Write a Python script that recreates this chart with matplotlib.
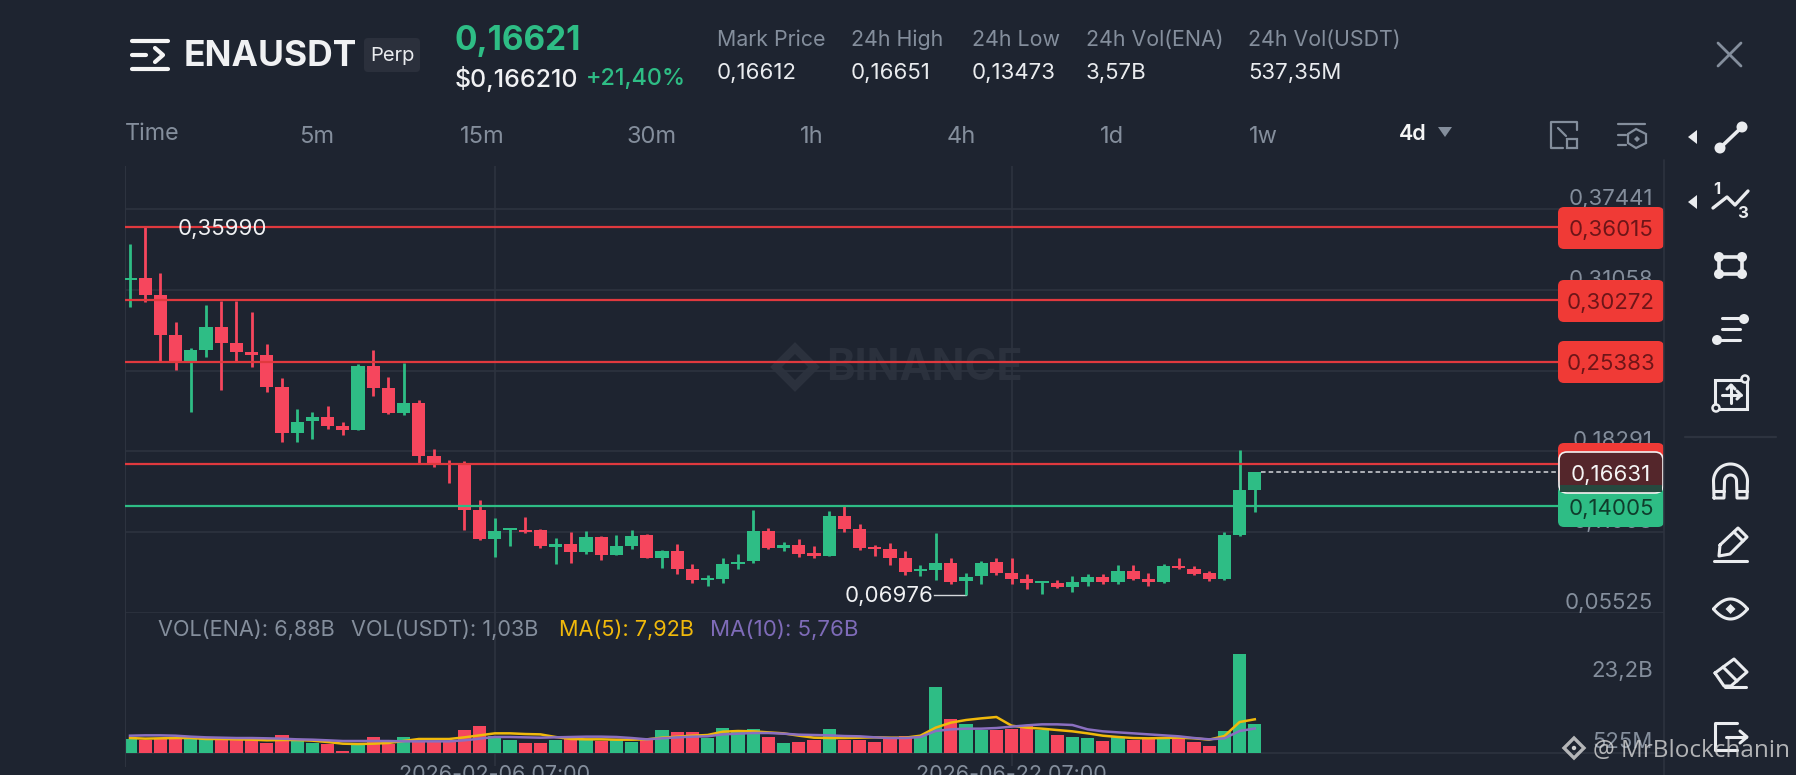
import numpy as np
import matplotlib
matplotlib.use("Agg")
import matplotlib.pyplot as plt
from matplotlib.patches import FancyBboxPatch, Circle, Polygon

plt.rcParams['font.family'] = ['Inter', 'DejaVu Sans']

W, H = 1796, 775

# candles
opens = [.3181, .3197, .3065, .2747, .2544, .2634, .2813, .2689, .2618, .2589,
         .2337, .1971, .2066, .2100, .2029, .1997, .2502, .2329, .2131, .2208,
         .1793, .1733, .1737, .1366, .1140, .1206, .1211, .1206, .1074, .1095,
         .1037, .1151, .1009, .1085, .1166, .0990, .1043, .0898, .0811, .0819,
         .0943, .0964, .1198, .1069, .1093, .1027, .1003, .1316, .1216, .1074,
         .1058, .0987, .0882, .0890, .0945, .0803, .0843, .0953, .0869, .0825,
         .0793, .0793, .0759, .0801, .0838, .0798, .0888, .0825, .0801, .0927,
         .0903, .0869, .0825, .1166, .1527]
closes = [.3199, .3068, .2747, .2539, .2634, .2813, .2689, .2618, .2589, .2337,
          .1971, .2063, .2100, .2031, .1997, .2502, .2329, .2134, .2208, .1790,
          .1730, .1725, .1369, .1137, .1203, .1219, .1193, .1080, .1095, .1037,
          .1151, .1009, .1085, .1164, .0990, .1043, .0898, .0811, .0832, .0943,
          .0959, .1198, .1064, .1090, .1022, .1001, .1316, .1214, .1069, .1058,
          .0987, .0880, .0898, .0945, .0801, .0840, .0951, .0869, .0825, .0790,
          .0803, .0759, .0801, .0835, .0798, .0888, .0822, .0801, .0924, .0906,
          .0864, .0825, .1166, .1527, .16631]
highs = [.3465, .3599, .3239, .2849, .2649, .2984, .3018, .3018, .2931, .2676,
         .2408, .2163, .2137, .2187, .2063, .2518, .2628, .2413, .2531, .2234,
         .1848, .1761, .1753, .1443, .1303, .1219, .1311, .1219, .1148, .1190,
         .1201, .1161, .1166, .1209, .1180, .1048, .1095, .0943, .0856, .0990,
         .1022, .1369, .1227, .1114, .1137, .1082, .1358, .1398, .1258, .1087,
         .1106, .1040, .0930, .1185, .0987, .0872, .0964, .0985, .0987, .0859,
         .0803, .0817, .0843, .0859, .0864, .0930, .0935, .0866, .0943, .0985,
         .0922, .0885, .1190, .1837, .16631]
lows = [.2973, .3007, .2544, .2471, .2137, .2576, .2313, .2544, .2492, .2302,
        .1900, .1905, .1924, .2005, .1960, .1997, .2266, .2123, .2118, .1730,
        .1706, .1579, .1211, .1127, .0995, .1082, .1185, .1069, .0938, .0951,
        .1016, .0969, .1009, .1061, .0985, .0911, .0864, .0790, .0764, .0793,
        .0903, .0948, .1061, .1043, .0998, .0985, .1003, .1193, .1053, .1001,
        .0935, .0856, .0845, .0817, .0780, .06976, .0785, .0851, .0785, .0746,
        .0701, .0748, .0722, .0767, .0782, .0782, .0817, .0767, .0788, .0898,
        .0853, .0806, .0817, .1161, .1350]

# volume pane, in billions
volumes = [3.29, 3.13, 3.21, 3.21, 3.21, 3.21, 3.21, 3.21, 3.21, 2.43,
           4.15, 2.82, 2.43, 2.19, 0.55, 2.19, 3.68, 2.19, 3.68, 2.66,
           2.66, 2.66, 5.40, 6.26, 3.92, 2.98, 2.43, 2.43, 3.13, 3.21,
           3.21, 2.82, 3.21, 2.66, 2.98, 5.32, 4.85, 4.85, 3.60, 5.95,
           5.01, 5.56, 3.76, 2.27, 2.66, 3.05, 5.56, 3.13, 2.98, 2.58,
           3.29, 3.92, 3.92, 15.5, 7.91, 6.73, 5.48, 5.40, 5.56, 6.34,
           5.48, 4.15, 3.84, 3.52, 2.90, 3.76, 2.98, 3.21, 3.60, 3.60,
           2.66, 1.64, 5.25, 23.2, 6.88]
ma5 = [3.52, 3.37, 3.45, 3.52, 3.52, 3.29, 3.29, 3.21, 3.13, 2.98,
       3.05, 3.05, 2.90, 2.58, 2.19, 2.11, 2.19, 2.35, 2.82, 3.29,
       3.29, 3.29, 3.68, 4.15, 4.62, 4.62, 4.46, 4.38, 3.76, 3.29,
       3.21, 3.21, 3.13, 3.13, 3.21, 3.60, 3.84, 4.07, 4.23, 5.01,
       5.17, 5.09, 4.85, 4.62, 4.07, 3.60, 3.52, 3.52, 3.60, 3.68,
       3.60, 3.60, 4.07, 5.95, 7.13, 7.75, 8.14, 8.46, 6.42, 5.95,
       5.72, 5.40, 5.09, 4.62, 4.07, 3.76, 3.52, 3.45, 3.52, 3.60,
       3.45, 3.13, 3.99, 7.28, 7.92]
ma10 = [4.07, 4.15, 4.15, 4.07, 3.84, 3.68, 3.60, 3.52, 3.52, 3.45,
        3.37, 3.21, 3.13, 2.98, 2.82, 2.82, 2.82, 2.82, 2.74, 2.74,
        2.74, 2.74, 2.98, 3.37, 3.76, 3.76, 3.68, 3.60, 3.68, 3.76,
        3.84, 3.84, 3.76, 3.52, 3.21, 3.45, 3.68, 3.84, 3.92, 4.38,
        4.54, 4.70, 4.70, 4.54, 4.31, 4.23, 4.15, 3.99, 3.92, 3.68,
        3.52, 3.52, 3.76, 5.17, 5.56, 5.72, 5.72, 5.87, 6.19, 6.50,
        6.73, 6.73, 6.58, 5.56, 5.09, 4.85, 4.62, 4.38, 4.15, 3.92,
        3.52, 3.21, 3.45, 5.17, 5.76]

price_ticks = [0.37441, 0.31058, 0.24675, 0.18291, 0.11908, 0.05525]
price_tick_labels = ['0,37441', '0,31058', '0,24675', '0,18291', '0,11908', '0,05525']
level_prices = [0.36015, 0.30272, 0.25383, 0.17318]
level_labels = ['0,36015', '0,30272', '0,25383', '0,17318']
green_level = 0.14005
last_price = 0.16631
x_ticks = [24, 58]
x_tick_labels = ['2026-02-06 07:00', '2026-06-22 07:00']

BG = '#1E2430'
GRID = '#2D333F'
GREEN = '#2EBD85'
RED = '#F6465D'
LINE_RED = '#E0393E'
BOX_RED = '#F03A36'
GREY = '#848E9C'
LIGHT = '#EAECEF'


def to_fig(left, top, right, bottom):
    return [left / W, 1 - bottom / H, (right - left) / W, (bottom - top) / H]


fig = plt.figure(figsize=(W / 100, H / 100), dpi=100, facecolor=BG)

# back layer, only for the faint logo behind the candles
back = fig.add_axes([0, 0, 1, 1], zorder=0)
back.set_xlim(0, W)
back.set_ylim(H, 0)
back.axis('off')
back.add_patch(Polygon([(795, 348), (814, 367), (795, 386), (776, 367)], closed=True,
                       fc='none', ec='#2B313D', lw=6))
back.text(826, 369, 'BINANCE', color='#2B313D', fontsize=31, fontweight='bold', va='center')

# price pane
ax = fig.add_axes(to_fig(125, 166, 1664, 613), zorder=1, facecolor='none')
ax.set_xlim((125 - 130) / 15.2, (1664 - 130) / 15.2)
ax.set_ylim(0.05525, 0.37441 + 43 * 0.00079)
ax.set_yticks(price_ticks)
ax.set_xticks(x_ticks)
ax.tick_params(length=0, labelleft=False, labelbottom=False)
ax.grid(True, color=GRID, lw=1.2)
ax.set_axisbelow(True)
for name, spine in ax.spines.items():
    spine.set_visible(name == 'left')
    spine.set_color(GRID)

idx = np.arange(len(opens))
colors = [GREEN if c >= o else RED for o, c in zip(opens, closes)]
body_low = np.minimum(opens, closes)
body_h = np.maximum(np.abs(np.array(closes) - np.array(opens)), 0.0016)
ax.vlines(idx, lows, highs, colors=colors, lw=2, zorder=3)
ax.bar(idx, body_h, bottom=body_low, width=0.86, color=colors, zorder=3)

for p in level_prices:
    ax.axhline(p, color=LINE_RED, lw=1.6, zorder=4)
ax.axhline(green_level, color=GREEN, lw=1.6, zorder=4)
ax.plot([idx[-1] + 0.4, 100], [last_price, last_price], color='#D5D8DC', lw=1.1,
        dashes=(3, 2), zorder=4)

for p, lab in zip(price_ticks, price_tick_labels):
    ax.annotate(lab, (1, p), xycoords=('axes fraction', 'data'), xytext=(-11, 12),
                textcoords='offset pixels', color=GREY, fontsize=16, ha='right', va='center_baseline')

# high and low marks
hi = int(np.argmax(highs))
lo = int(np.argmin(lows))
ax.annotate('0,35990', (hi, highs[hi]), xytext=(32, -2), textcoords='offset pixels',
            color='#F0F1F3', fontsize=16, va='center', zorder=5)
ax.plot([lo - 2.1, lo, lo], [lows[lo], lows[lo], lows[lo] + 0.004], color='#D5D8DC', lw=1, zorder=2)
ax.annotate('0,06976', (lo - 2.1, lows[lo]), xytext=(-1, -1), textcoords='offset pixels',
            color='#F0F1F3', fontsize=16, ha='right', va='center', zorder=5)

# volume pane
vol = fig.add_axes(to_fig(125, 613, 1664, 766), zorder=1, facecolor='none')
vol.set_xlim(ax.get_xlim())
vol.set_ylim(-13 * 0.235, 140 * 0.235)
vol.set_yticks([0])
vol.set_xticks(x_ticks)
vol.set_xticklabels(x_tick_labels, color=GREY, fontsize=15.5)
vol.tick_params(length=0, labelleft=False, pad=-1)
vol.grid(True, color=GRID, lw=1.2)
vol.set_axisbelow(True)
for name, spine in vol.spines.items():
    spine.set_visible(name == 'left')
    spine.set_color(GRID)
vol.bar(idx, volumes, width=0.86, color=colors, zorder=2)
vol.plot(idx, ma5, color='#F0B90B', lw=1.8, zorder=3)
vol.plot(idx, ma10, color='#8A6FC0', lw=1.8, zorder=4)

# chrome layer in picture pixels
top = fig.add_axes([0, 0, 1, 1], zorder=3, facecolor='none')
top.set_xlim(0, W)
top.set_ylim(H, 0)
top.axis('off')


def txt(x, y, s, color=GREY, size=15, weight='normal', ha='left'):
    top.text(x, y, s, color=color, fontsize=size, fontweight=weight, ha=ha, va='center')


def rbox(x0, y0, x1, y1, r, fc, ec='none', lw=0):
    top.add_patch(FancyBboxPatch((x0 + r, y0 + r), x1 - x0 - 2 * r, y1 - y0 - 2 * r,
                                 boxstyle=f'round,pad={r},rounding_size={r}', fc=fc, ec=ec, lw=lw))


def ln(pts, color=LIGHT, lw=2.2):
    xs, ys = zip(*pts)
    top.plot(xs, ys, color=color, lw=lw, solid_capstyle='round', solid_joinstyle='round')


def dot(x, y, r=5, color=LIGHT):
    top.add_patch(Circle((x, y), r, fc=color, ec='none'))


# header
for y0, x1 in [(41, 168), (55, 146), (69, 168)]:
    ln([(132, y0), (x1, y0)], color='#F5F5F5', lw=3)
ln([(155, 48), (163, 55), (155, 62)], color='#F5F5F5', lw=3)
txt(184, 57, 'ENAUSDT', '#F0F1F3', 25.5, 'bold')
rbox(364, 38, 420, 72, 4, '#2B303C')
txt(392, 56, 'Perp', LIGHT, 14.5, ha='center')
txt(455, 41, '0,16621', GREEN, 24, 'bold')
txt(455, 79, '$0,166210', '#F0F1F3', 18, 'medium')
txt(586, 79, '+21,40%', GREEN, 16.8, 'medium')

stat_x = [717, 851, 972, 1086, 1248]
stat_names = ['Mark Price', '24h High', '24h Low', '24h Vol(ENA)', '24h Vol(USDT)']
stat_vals = ['0,16612', '0,16651', '0,13473', '3,57B', '537,35M']
for x, name, val in zip(stat_x, stat_names, stat_vals):
    txt(x, 40, name, GREY, 15.4)
    txt(x, 73, val, LIGHT, 16)
ln([(1718, 43), (1741, 66)], GREY, 2)
ln([(1741, 43), (1718, 66)], GREY, 2)

# interval tabs
txt(125, 134, 'Time', GREY, 16.8)
for x, s in zip([317, 482, 652, 812, 961, 1112, 1263], ['5m', '15m', '30m', '1h', '4h', '1d', '1w']):
    txt(x, 137, s, GREY, 17, ha='center')
txt(1413, 134, '4d', '#F5F5F5', 15.5, 'semibold', ha='center')
top.add_patch(Polygon([(1438, 127), (1452, 127), (1445, 137)], fc=GREY))

# two small icons next to the tabs
ln([(1563, 122), (1551, 122), (1551, 148), (1563, 148)], GREY, 1.6)
ln([(1563, 122), (1577, 122), (1577, 130)], GREY, 1.6)
top.add_patch(plt.Rectangle((1567, 139), 10, 9, fc='none', ec=GREY, lw=1.6))
ln([(1558, 128), (1566, 136)], GREY, 1.6)
ln([(1618, 124), (1645, 124)], GREY, 1.6)
ln([(1618, 135), (1626, 135)], GREY, 1.6)
ln([(1618, 145), (1626, 145)], GREY, 1.6)
top.add_patch(Polygon([(1636, 129), (1646, 134), (1646, 143), (1636, 148), (1628, 143), (1628, 134)],
                      fc='none', ec=GREY, lw=1.6))
top.add_patch(Polygon([(1637, 136), (1640, 139), (1637, 142), (1634, 139)], fc=GREY))

# legend of the volume pane
txt(158, 630, 'VOL(ENA): 6,88B', GREY, 15.6)
txt(351, 630, 'VOL(USDT): 1,03B', GREY, 15.6)
txt(559, 630, 'MA(5): 7,92B', '#F0B90B', 15.6)
txt(710, 630, 'MA(10): 5,76B', '#7E6BB8', 16)
txt(1653, 671, '23,2B', GREY, 16, ha='right')
txt(1653, 742, '525M', GREY, 16, ha='right')

# price tags on the axis
for y0, lab in zip([207, 280, 341], level_labels):
    rbox(1558, y0, 1664, y0 + 42, 6, BOX_RED)
    txt(1611, y0 + 23, lab, '#6E1518', 16, ha='center')
rbox(1558, 443, 1664, 485, 6, BOX_RED)
rbox(1558, 486, 1664, 527, 6, GREEN)
txt(1611, 509, '0,14005', '#0F3D2C', 16, ha='center')
rbox(1559, 452, 1663, 493, 8, '#54262B', ec='#F2F2F2', lw=1.2)
top.add_patch(plt.Rectangle((1560, 485), 102, 6.5, fc='#26493F', ec='none'))
txt(1611, 475, '0,16631', '#F5F5F5', 16, ha='center')

# tool column
ln([(1664, 160), (1664, 775)], GRID, 1.2)
top.add_patch(Polygon([(1688, 137), (1697, 130), (1697, 144)], fc=LIGHT))
dot(1720, 148, 5.5)
dot(1742, 127, 5.5)
ln([(1720, 148), (1742, 127)], LIGHT, 2.6)

top.add_patch(Polygon([(1688, 202), (1697, 195), (1697, 209)], fc=LIGHT))
ln([(1713, 208), (1727, 197), (1735, 205), (1748, 191)], LIGHT, 2.4)
txt(1717, 190, '1', LIGHT, 12, 'bold', ha='center')
txt(1743, 213, '3', LIGHT, 12, 'bold', ha='center')

for xc, yc in [(1719, 257), (1742, 257), (1719, 274), (1742, 274)]:
    dot(xc, yc, 5)
ln([(1719, 257), (1742, 257), (1742, 274), (1719, 274), (1719, 257)], LIGHT, 2.6)

ln([(1722, 318), (1741, 318)])
dot(1744, 319, 5)
ln([(1722, 329), (1740, 329)])
ln([(1720, 340), (1740, 340)])
dot(1717, 340, 5)

top.add_patch(plt.Rectangle((1715, 380), 32, 29, fc=BG, ec=LIGHT, lw=2.2))
top.add_patch(Circle((1745, 379), 3.5, fc=BG, ec=LIGHT, lw=1.8))
top.add_patch(Circle((1716, 408), 3.5, fc=BG, ec=LIGHT, lw=1.8))
ln([(1731, 385), (1731, 403)])
ln([(1722, 395), (1741, 395)])
ln([(1727, 389), (1731, 385), (1735, 389)])
ln([(1737, 391), (1741, 395), (1737, 399)])

ln([(1685, 437), (1776, 437)], GRID, 1.6)

# magnet
t = np.linspace(np.pi, 2 * np.pi, 40)
outer = [(1730.5 + 17 * np.cos(a), 481 + 17 * np.sin(a)) for a in t]
inner = [(1730.5 + 6 * np.cos(a), 481 + 6 * np.sin(a)) for a in t]
ln([(1714, 498)] + outer + [(1747, 498), (1737, 498)] + inner[::-1] + [(1724, 498), (1714, 498)], LIGHT, 2.2)
ln([(1714, 491), (1724, 491)])
ln([(1737, 491), (1747, 491)])

# pencil
ln([(1720, 545), (1738, 528), (1747, 537), (1730, 554), (1719, 556), (1720, 545)], LIGHT, 2.2)
ln([(1734, 532), (1743, 541)], LIGHT, 2.2)
ln([(1714, 561), (1747, 561)], LIGHT, 2.2)

# eye
ex = np.linspace(-17, 17, 40)
ln([(1730.5 + a, 609 - 10 * (1 - (a / 17) ** 2)) for a in ex], LIGHT, 2.2)
ln([(1730.5 + a, 609 + 10 * (1 - (a / 17) ** 2)) for a in ex], LIGHT, 2.2)
top.add_patch(Polygon([(1730.5, 604), (1735.5, 609), (1730.5, 614), (1725.5, 609)], fc=LIGHT))

# eraser
ln([(1715, 673), (1734, 659), (1747, 672), (1731, 686), (1724, 686), (1715, 673)], LIGHT, 2.2)
ln([(1723, 667), (1737, 681)], LIGHT, 2.2)
ln([(1725, 687), (1746, 687)], LIGHT, 2.2)

# share
ln([(1737, 723), (1715, 723), (1715, 750), (1737, 750)], LIGHT, 2.2)
ln([(1726, 737), (1746, 737)], LIGHT, 2.2)
ln([(1740, 731), (1747, 737), (1740, 743)], LIGHT, 2.2)

# site watermark
top.add_patch(Polygon([(1574, 738), (1584, 748), (1574, 758), (1564, 748)], fc='none', ec='#D0D0D0', lw=2.4, alpha=0.85))
dot(1574, 748, 2.2, '#D0D0D0')
top.text(1593, 751, '@ MrBlockchanin', color='#D8D8D8', alpha=0.8, fontsize=17.5, va='center',
         family=['Open Sans', 'DejaVu Sans'])

fig.savefig('out.png', dpi=100, facecolor=BG)
